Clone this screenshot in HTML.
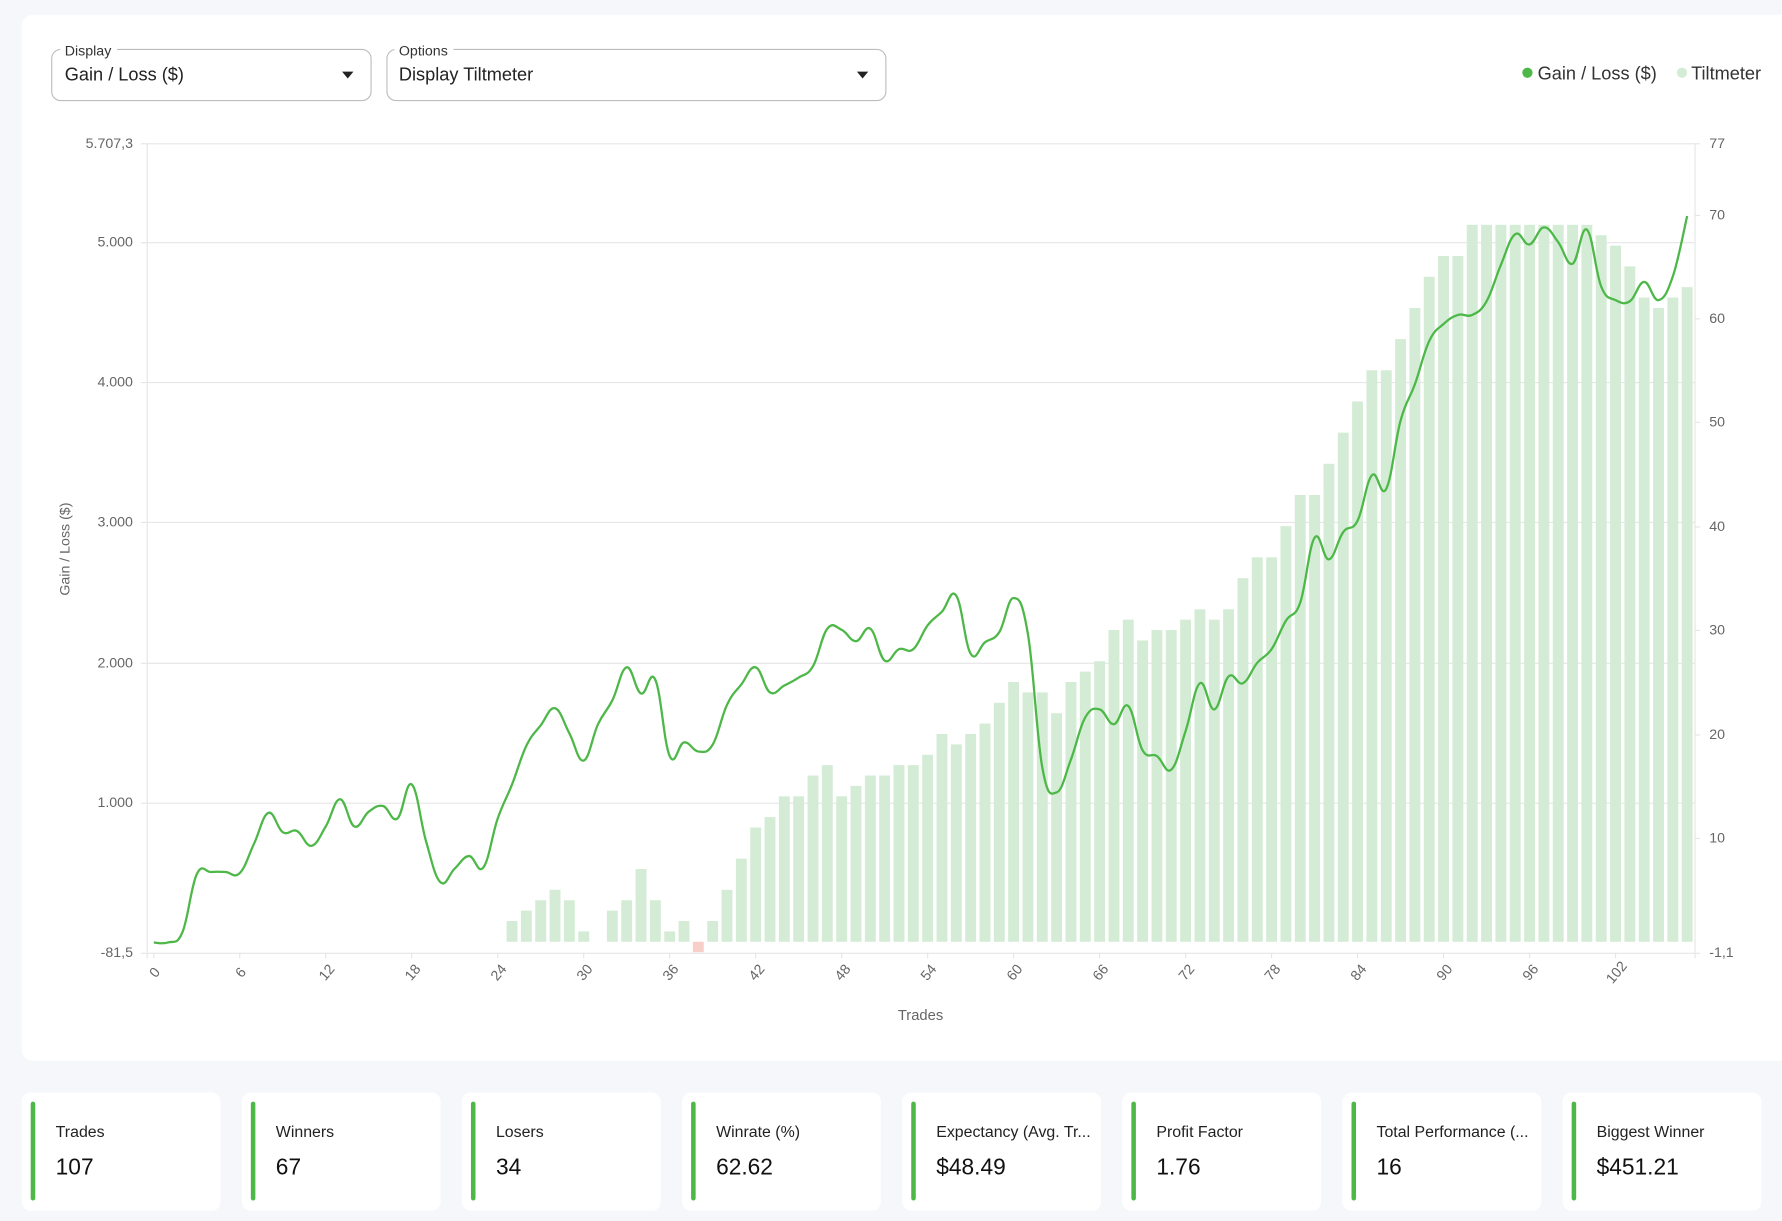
<!DOCTYPE html>
<html><head><meta charset="utf-8"><style>
html,body{margin:0;padding:0;background:#f5f7fb;}
svg{display:block;font-family:"Liberation Sans",sans-serif;}
</style></head><body>
<svg id="s" width="1782" height="1221" viewBox="0 0 1568 1074" preserveAspectRatio="none" xmlns="http://www.w3.org/2000/svg">
<rect x="0" y="0" width="1568" height="1074" fill="#f5f7fb"/>
<rect x="19" y="13" width="1570" height="920" rx="10" fill="#fff"/>
<!-- selects -->
<rect x="45.5" y="43.5" width="281" height="45" rx="8" fill="none" stroke="#bdbdbd"/>
<rect x="53" y="38" width="50" height="10" fill="#fff"/>
<text x="57" y="49" font-size="12.5" fill="#333">Display</text>
<text x="57" y="71" font-size="16" fill="#222">Gain / Loss ($)</text>
<path d="M301 63 L311 63 L306 69 Z" fill="#222"/>
<rect x="340.5" y="43.5" width="439" height="45" rx="8" fill="none" stroke="#bdbdbd"/>
<rect x="347" y="38" width="52" height="10" fill="#fff"/>
<text x="351" y="49" font-size="12.5" fill="#333">Options</text>
<text x="351" y="71" font-size="16" fill="#222">Display Tiltmeter</text>
<path d="M754 63 L764 63 L759 69 Z" fill="#222"/>
<!-- legend -->
<circle cx="1344" cy="64" r="4.5" fill="#4db848"/>
<text x="1353" y="70" font-size="16" fill="#333">Gain / Loss ($)</text>
<circle cx="1480" cy="64" r="4.5" fill="#d4ecd5"/>
<text x="1488" y="70" font-size="16" fill="#333">Tiltmeter</text>
<g id="grid" stroke="#e6e6e6" stroke-width="1"></g>
<g id="bars"></g>
<path id="line" fill="none" stroke="#4db848" stroke-width="2"/>
<g id="lab" font-size="12.5" fill="#666"></g>
<text x="810" y="897" font-size="13" fill="#666" text-anchor="middle">Trades</text>
<text transform="translate(61,483) rotate(-90)" font-size="12.5" fill="#666" text-anchor="middle">Gain / Loss ($)</text>
<g id="cards"></g>
</svg>
<script>
var NS="http://www.w3.org/2000/svg";
function el(p,t,a,txt){var e=document.createElementNS(NS,t);for(var k in a)e.setAttribute(k,a[k]);if(txt!=null)e.textContent=txt;document.getElementById(p).appendChild(e);return e;}
var L=129,R=1491,T=126,B=838;
[[126,"5.707,3"],[213,"5.000"],[336,"4.000"],[459,"3.000"],[583,"2.000"],[706,"1.000"],[838,"-81,5"]].forEach(function(g){
 el("grid","line",{x1:L-5,x2:R,y1:g[0]+.5,y2:g[0]+.5});
 el("lab","text",{x:117,y:g[0]+4,"text-anchor":"end"},g[1]);});
[[126,"77"],[189,"70"],[280,"60"],[371,"50"],[463,"40"],[554,"30"],[646,"20"],[737,"10"],[838,"-1,1"]].forEach(function(g){
 el("grid","line",{x1:R,x2:R+5,y1:g[0]+.5,y2:g[0]+.5});
 el("lab","text",{x:1504,y:g[0]+4},g[1]);});
el("grid","line",{x1:L+.5,x2:L+.5,y1:T,y2:B+5});
el("grid","line",{x1:R+.5,x2:R+.5,y1:T,y2:B+5});
var step=12.61,x0=L+6.3;
for(var i=0;i<=102;i+=6){var x=x0+i*step;el("grid","line",{x1:x,x2:x,y1:B,y2:B+5});
 el("lab","text",{transform:"translate("+(x+4)+","+(B+20)+") rotate(-50)","text-anchor":"middle"},String(i));}
var tilt=[0,0,0,0,0,0,0,0,0,0,0,0,0,0,0,0,0,0,0,0,0,0,0,0,0,2,3,4,5,4,1,0,3,4,7,4,1,2,-1,2,5,8,11,12,14,14,16,17,14,15,16,16,17,17,18,20,19,20,21,23,25,24,24,22,25,26,27,30,31,29,30,30,31,32,31,32,35,37,37,40,43,43,46,49,52,55,55,58,61,64,66,66,69,69,69,69,69,69,69,69,69,68,67,65,62,61,62,63];
var z=828.4,u=9.14;
tilt.forEach(function(v,i){if(!v)return;var x=x0+i*step-4.8;
 if(v>0)el("bars","rect",{x:x,y:z-v*u,width:9.6,height:v*u,fill:"#d4ecd5"});
 else el("bars","rect",{x:x,y:z,width:9.6,height:-v*u,fill:"#f8cfc8"});});
var ys=[829,829,820,769,767,767,768,742,715,732,731,744,727,703,727,714,709,720,690,740,776,764,753,763,720,690,656,638,623,645,669,637,616,587,610,598,665,653,661,655,620,602,587,609,603,596,586,553,554,564,553,581,571,571,550,538,524,575,565,556,526,558,675,697,668,631,624,637,621,660,665,677,643,601,624,595,601,583,571,546,530,473,492,468,458,418,430,370,338,300,285,277,277,265,233,206,215,200,213,232,202,252,264,265,248,264,243,190];
var P=ys.map(function(y,i){return [x0+i*step,y];});
var d="M"+P[0][0]+" "+P[0][1];
for(var i=0;i<P.length-1;i++){var p0=P[Math.max(0,i-1)],p1=P[i],p2=P[i+1],p3=P[Math.min(P.length-1,i+2)];var t=0.2;
 d+=" C"+(p1[0]+(p2[0]-p0[0])*t)+" "+(p1[1]+(p2[1]-p0[1])*t)+" "+(p2[0]-(p3[0]-p1[0])*t)+" "+(p2[1]-(p3[1]-p1[1])*t)+" "+p2[0]+" "+p2[1];}
document.getElementById("line").setAttribute("d",d);
var cards=[["Trades","107"],["Winners","67"],["Losers","34"],["Winrate (%)","62.62"],["Expectancy (Avg. Tr...","$48.49"],["Profit Factor","1.76"],["Total Performance (...","16"],["Biggest Winner","$451.21"]];
cards.forEach(function(c,i){var x=19+i*193.7;
 el("cards","rect",{x:x,y:961,width:175,height:104,rx:8,fill:"#fff"});
 el("cards","rect",{x:x+8,y:969,width:4,height:87,rx:2,fill:"#4db848"});
 el("cards","text",{x:x+30,y:1000,"font-size":14,fill:"#222"},c[0]);
 el("cards","text",{x:x+30,y:1033,"font-size":20,fill:"#111","font-weight":"500"},c[1]);});
</script>
</body></html>
